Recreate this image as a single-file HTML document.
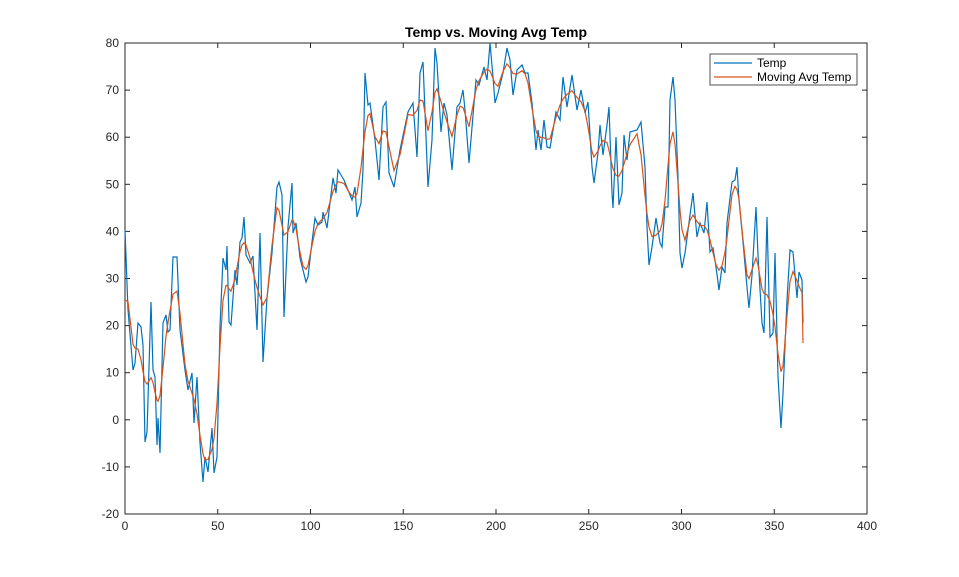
<!DOCTYPE html><html><head><style>body{margin:0;background:#fff}svg{display:block;font-family:"Liberation Sans",sans-serif}</style></head><body>
<svg id="s" width="959" height="577" xmlns="http://www.w3.org/2000/svg">
<rect width="959" height="577" fill="#fff"/>
<rect x="125" y="43" width="742" height="471" fill="#fff" stroke="#262626" stroke-width="1"/>
<text x="496" y="37" text-anchor="middle" font-size="14" font-weight="bold" fill="#000">Temp vs. Moving Avg Temp</text>
<g id="ax" font-size="12" fill="#262626"></g>
<polyline id="t" fill="none" stroke="#0072BD" stroke-width="1.2"/>
<polyline id="m" fill="none" stroke="#D95319" stroke-width="1.2"/>
<rect x="710" y="54" width="147" height="31" fill="#fff" stroke="#262626" stroke-width="0.8"/>
<line x1="714" y1="63" x2="752" y2="63" stroke="#0072BD" stroke-width="1.2"/>
<line x1="714" y1="77" x2="752" y2="77" stroke="#D95319" stroke-width="1.2"/>
<text x="757" y="67" font-size="12">Temp</text>
<text x="757" y="81" font-size="12">Moving Avg Temp</text>
</svg>
<script>
var P=[[125,230],[128,310],[133,370],[135,363],[138,323],[141,327],[143,345],[145,442],[147,432],[151,302],[153,370],[155,377],[157,445],[158,418],[160,453],[163,323],[166,315],[168,332],[170,330],[173,257],[177,257],[180,330],[185,370],[188,390],[192,373],[194,423],[197,377],[200,443],[203,482],[205,457],[208,472],[212,428],[214,473],[217,457],[220,327],[223,258],[226,270],[227,246],[229,322],[231,325],[235,270],[237,285],[240,242],[242,238],[244,217],[246,255],[250,263],[253,256],[257,330],[260,233],[263,362],[267,298],[272,253],[277,187],[279,182],[282,195],[284,317],[288,227],[292,183],[293,233],[296,223],[300,258],[303,270],[306,282],[308,277],[312,242],[315,218],[318,225],[322,222],[323,212],[327,228],[330,203],[333,178],[336,193],[338,170],[344,180],[348,190],[352,200],[355,187],[357,217],[361,203],[363,170],[365,73],[368,105],[370,103],[375,140],[379,180],[383,107],[386,102],[389,173],[394,187],[400,150],[408,112],[413,103],[417,157],[420,73],[423,62],[428,187],[432,140],[435,48],[437,63],[441,132],[444,103],[447,115],[452,170],[457,107],[460,103],[463,90],[465,110],[469,163],[476,80],[479,85],[484,67],[487,80],[490,43],[493,77],[495,103],[498,93],[503,73],[507,48],[510,60],[513,95],[517,70],[522,65],[525,73],[528,73],[532,103],[536,150],[538,130],[541,150],[544,120],[547,147],[550,148],[556,112],[560,120],[563,77],[567,107],[572,75],[577,110],[581,90],[585,113],[588,102],[592,167],[594,183],[598,153],[600,125],[603,155],[607,125],[609,107],[612,193],[613,208],[616,137],[619,205],[622,193],[624,135],[627,160],[630,132],[637,130],[641,122],[645,167],[647,227],[649,265],[652,247],[656,218],[660,243],[662,247],[665,207],[668,207],[670,100],[673,77],[675,100],[678,177],[680,253],[682,268],[685,253],[690,215],[693,193],[697,237],[700,223],[704,233],[707,202],[710,252],[713,248],[716,267],[719,290],[722,267],[725,273],[727,223],[732,182],[735,180],[737,167],[739,200],[743,242],[747,287],[749,308],[752,275],[756,207],[758,255],[762,323],[764,333],[767,217],[770,337],[773,333],[775,253],[778,377],[781,428],[783,393],[787,300],[790,250],[793,252],[797,298],[799,272],[802,280],[803,323]];
document.getElementById('t').setAttribute('points',P.map(p=>p.join(',')).join(' '));
var M=P.map(function(p){var s=0,w=0;P.forEach(function(q){var d=q[0]-p[0];var g=Math.exp(-d*d/(2*16));s+=g*q[1];w+=g});return [p[0],(s/w).toFixed(1)]});
M[M.length-1][1]=343;M[0][1]=300;
document.getElementById('m').setAttribute('points',M.map(p=>p.join(',')).join(' '));
var g=document.getElementById('ax'),h='';
for(var i=0;i<=8;i++){var x=125+i*742/8;h+='<line x1="'+x+'" y1="514" x2="'+x+'" y2="509" stroke="#262626"/><line x1="'+x+'" y1="43" x2="'+x+'" y2="48" stroke="#262626"/><text x="'+x+'" y="530" text-anchor="middle">'+(i*50)+'</text>';}
for(var k=0;k<=10;k++){var y=514-k*47.1;h+='<line x1="125" y1="'+y+'" x2="130" y2="'+y+'" stroke="#262626"/><line x1="867" y1="'+y+'" x2="862" y2="'+y+'" stroke="#262626"/><text x="119" y="'+(y+4)+'" text-anchor="end">'+(k*10-20)+'</text>';}
g.innerHTML=h;
</script>
</body></html>
